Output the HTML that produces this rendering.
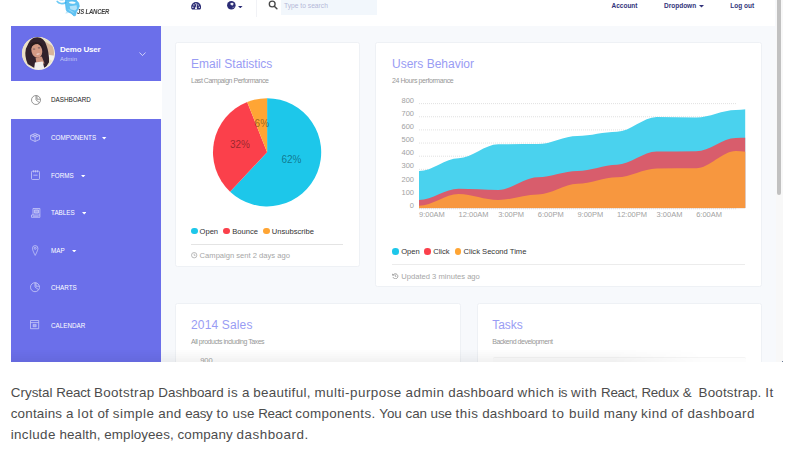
<!DOCTYPE html>
<html>
<head>
<meta charset="utf-8">
<style>
*{box-sizing:border-box;margin:0;padding:0}
html,body{width:810px;height:456px;overflow:hidden;background:#fff}
body{font-family:"Liberation Sans",sans-serif;position:relative}
.abs{position:absolute}
#shot{position:absolute;left:11px;top:0;width:772px;height:362.3px;overflow:hidden;background:#f7f9fc}
#inner{position:absolute;left:0;top:0;width:772px;height:380px}
#hdr{position:absolute;left:0;top:0;width:764px;height:26.2px;background:#fff}
#side{position:absolute;left:0;top:26.2px;width:150.2px;height:337px;background:#6b6fea}
#side .active{position:absolute;left:0;top:55px;width:151px;height:37.6px;background:#fff}
.t{position:absolute;white-space:nowrap;line-height:1}
.mi{color:#fff;font-size:6.3px;left:40px}
.card{position:absolute;background:#fff;border:1px solid #eef1f5;border-radius:2.5px}
.ttl{color:#999cf4;font-size:12px}
.sub{color:#979797;font-size:7px;letter-spacing:-0.47px}
.nav{top:2.6px;font-size:6.5px;font-weight:700;color:#32337a}
.pl{font-size:10px;color:rgba(0,0,0,.42)}
.leg{color:#333;font-size:7.6px}
.dot{position:absolute;width:6.6px;height:6.6px;border-radius:50%}
.foot{color:#a6a6a6;font-size:7.6px}
.ax{color:#a2a2a2;font-size:7.5px}
#para{position:absolute;left:11px;top:383.2px;width:795px;font-size:13.4px;line-height:20.6px;color:#4c4c4c;white-space:nowrap}
</style>
</head>
<body>
<div id="shot"><div id="inner">
<div id="hdr">
    <svg class="abs" style="left:43px;top:0;filter:blur(.35px)" width="28" height="17" viewBox="0 0 28 17">
      <path d="M3.2 1.4 Q4.2 3.2 7 3.5 Q9.6 3.8 12 2.4" fill="none" stroke="#55c1f3" stroke-width="1.7" stroke-linecap="round" opacity=".85"/>
      <path d="M5.5 .2 L9.5 .6" fill="none" stroke="#8fd6f7" stroke-width="1" opacity=".6"/>
      <path d="M11.4 0 L22 0 L24.6 3 L25.3 6.3 L23.9 9.4 L22.4 11.8 L21.4 15.6 L19.9 15.9 L17 13.2 L13.2 11.6 L12.2 9.8 L11.5 4 Z" fill="#3fb6f0" opacity=".82" stroke="#1ea5ec" stroke-width=".7"/>
      <ellipse cx="18.3" cy="2.6" rx="3.3" ry="1.1" fill="#fff" opacity=".95" transform="rotate(4 18.3 2.6)"/>
      <path d="M15.6 6.2 L22.6 5.3 L23 8.4 L21 10.6 L16.4 9.2 Z" fill="#bfe8fb" opacity=".85"/>
      <path d="M14.6 9.6 L19.6 12.6" stroke="#d6f0fc" stroke-width=".6" opacity=".8"/>
      <path d="M13 11 L11.2 13.6 L14 13.2 Z" fill="#7fd0f5" opacity=".5"/>
    </svg>
    <div class="t" style="left:66px;top:7.5px;font-size:8px;font-weight:700;font-style:italic;color:#404040;transform-origin:0 0;transform:scaleX(.74);letter-spacing:-.2px">JS LANCER</div>
    <svg class="abs" style="left:179.8px;top:1.9px" width="10.2" height="7.8" viewBox="0 0 10.2 7.8">
      <defs><clipPath id="tc"><rect x="0" y="0" width="10.2" height="7.6"/></clipPath></defs>
      <circle cx="5.1" cy="5" r="4.95" fill="#2b2c75" clip-path="url(#tc)"/>
      <path d="M5 6 L5.9 2.2" stroke="#fff" stroke-width=".8" stroke-linecap="round"/>
      <g fill="#fff"><circle cx="1.9" cy="5.3" r=".7"/><circle cx="2.9" cy="2.9" r=".7"/><circle cx="4.9" cy="1.7" r=".6"/><circle cx="8.3" cy="5.3" r=".7"/><circle cx="7.5" cy="2.9" r=".5"/><circle cx="5" cy="6.2" r="1"/></g>
    </svg>
    <svg class="abs" style="left:216.15px;top:1.25px" width="8.7" height="8.7" viewBox="0 0 9 9">
      <circle cx="4.5" cy="4.5" r="4.4" fill="#2b2c75"/>
      <path d="M3.6 2.4 L5 1.7 L6.6 2.2 L6.7 3.6 L5.4 5 L4.4 4.2 L3.4 3.4 Z" fill="#fff" opacity=".92"/>
      <path d="M5.6 7 L7.6 6.2" stroke="#fff" stroke-width=".6" opacity=".7"/>
    </svg>
    <svg class="abs" style="left:227.4px;top:5.8px" width="4.6" height="2.7" viewBox="0 0 5 3"><path d="M0 0 H5 L2.5 2.6 Z" fill="#2b2c75"/></svg>
    <div class="abs" style="left:245px;top:0;width:1px;height:17px;background:#f1f2f6"></div>
    <svg class="abs" style="left:257px;top:-0.2px" width="10" height="10" viewBox="0 0 10 10">
      <circle cx="4.2" cy="4" r="2.9" fill="none" stroke="#484848" stroke-width="1.35"/>
      <path d="M6.3 6.2 L8.9 8.8" stroke="#484848" stroke-width="1.5" stroke-linecap="round"/>
    </svg>
    <div class="abs" style="left:270px;top:0;width:96px;height:15.3px;background:#f2f7fc"></div>
    <div class="t" style="left:273px;top:3.3px;font-size:6.7px;color:#b4b7d8">Type to search</div>
    <div class="t nav" style="left:600.5px">Account</div>
    <div class="t nav" style="left:653px">Dropdown</div>
    <svg class="abs" style="left:688.3px;top:5.2px" width="5" height="3" viewBox="0 0 5 3"><path d="M0 0 H5 L2.5 2.6 Z" fill="#32337a"/></svg>
    <div class="t nav" style="left:719.3px">Log out</div>
    </div>
<div id="side"><div class="active"></div>
    <div class="abs" style="left:10.8px;top:10.5px;width:33.2px;height:33.2px;border-radius:50%;background:#f3efe2"></div>
    <svg class="abs" style="left:11.4px;top:11.1px" width="32" height="32" viewBox="48 58 346 346">
      <defs><clipPath id="av"><circle cx="221" cy="231" r="173"/></clipPath><filter id="avb"><feGaussianBlur stdDeviation="7"/></filter></defs>
      <g clip-path="url(#av)"><g filter="url(#avb)">
        <rect x="20" y="30" width="420" height="420" fill="#ece1c4"/>
        <path d="M300 110 L400 170 L400 270 L345 262 L318 190 Z" fill="#d9b59a"/>
        <path d="M330 250 L400 262 L400 330 L350 300 Z" fill="#f4f1ea"/>
        <path d="M118 125 Q155 58 215 62 Q288 64 313 150 Q343 230 340 330 L300 395 L200 405 L110 350 Q72 270 90 185 Z" fill="#30202a"/>
        <ellipse cx="208" cy="205" rx="58" ry="78" transform="rotate(-14 208 205)" fill="#d49a84"/>
        <path d="M140 130 Q190 95 250 125 Q275 150 280 200 Q255 140 215 135 Q165 135 140 190 Z" fill="#2a1a1f"/>
        <path d="M195 285 L262 268 L292 345 L205 352 Z" fill="#cd957f"/>
        <path d="M188 335 L272 322 L292 410 L178 410 Z" fill="#f2f0ee"/>
        <ellipse cx="178" cy="188" rx="14" ry="6" fill="#5a4a52" opacity=".8"/>
        <ellipse cx="232" cy="175" rx="14" ry="6" fill="#5a4a52" opacity=".8"/>
        <ellipse cx="222" cy="242" rx="20" ry="8" fill="#e9c9c0" transform="rotate(-14 222 242)"/>
      </g></g>
    </svg>
    <div class="t" style="left:49px;top:19.5px;font-size:8px;font-weight:700;color:#fff;letter-spacing:-.2px">Demo User</div>
    <div class="t" style="left:49px;top:29.8px;font-size:6px;color:rgba(255,255,255,.62)">Admin</div>
    <svg class="abs" style="left:128.3px;top:25.4px" width="7" height="4.4" viewBox="0 0 7 4.4"><path d="M.4 .5 L3.5 3.6 L6.6 .5" fill="none" stroke="#fff" stroke-width=".8" opacity=".85"/></svg>
    <div class="t mi" style="top:70.5px;color:#222">DASHBOARD</div><div class="t mi" style="top:108.9px;color:#fff">COMPONENTS</div><svg class="abs" style="left:91.2px;top:111.1px" width="4.4" height="2.6" viewBox="0 0 5 3"><path d="M0 0 H5 L2.5 2.8 Z" fill="#fff"/></svg><div class="t mi" style="top:146.4px;color:#fff">FORMS</div><svg class="abs" style="left:70.2px;top:148.6px" width="4.4" height="2.6" viewBox="0 0 5 3"><path d="M0 0 H5 L2.5 2.8 Z" fill="#fff"/></svg><div class="t mi" style="top:183.9px;color:#fff">TABLES</div><svg class="abs" style="left:70.8px;top:186.1px" width="4.4" height="2.6" viewBox="0 0 5 3"><path d="M0 0 H5 L2.5 2.8 Z" fill="#fff"/></svg><div class="t mi" style="top:221.4px;color:#fff">MAP</div><svg class="abs" style="left:61.3px;top:223.6px" width="4.4" height="2.6" viewBox="0 0 5 3"><path d="M0 0 H5 L2.5 2.8 Z" fill="#fff"/></svg><div class="t mi" style="top:258.9px;color:#fff">CHARTS</div><div class="t mi" style="top:296.4px;color:#fff">CALENDAR</div><svg class="abs" style="left:19.6px;top:68.8px;overflow:visible" width="10" height="10" viewBox="0 0 10 10"><g fill="none" stroke="#6a6a6a" stroke-width="0.75" opacity="0.9" stroke-linejoin="round"><circle cx="5" cy="5" r="4.5"/><path d="M5 .6 V5 L8.4 7.6"/><path d="M6 .7 V4.2 H9.4"/></g></svg><svg class="abs" style="left:19.3px;top:106.8px;overflow:visible" width="10.2" height="9" viewBox="0 0 10.2 9"><g fill="none" stroke="#fff" stroke-width="0.75" opacity="0.68" stroke-linejoin="round"><path d="M5.1 .5 L9.6 2.4 V6.4 L5.1 8.5 L.6 6.4 V2.4 Z"/><path d="M.6 2.4 L5.1 4.4 L9.6 2.4 M5.1 4.4 V8.5"/><path d="M2.8 1.5 L7.4 3.4 M7.4 1.5 L2.8 3.4"/></g></svg><svg class="abs" style="left:19.9px;top:144.3px;overflow:visible" width="9" height="10" viewBox="0 0 9 10"><g fill="none" stroke="#fff" stroke-width="0.75" opacity="0.68" stroke-linejoin="round"><rect x=".5" y="1.2" width="8" height="8.3" rx="1"/><path d="M2.6 .3 V2.4 M4.5 .3 V2.4 M6.4 .3 V2.4"/><path d="M2.4 5.2 H6.6"/></g></svg><svg class="abs" style="left:19.8px;top:181.7px;overflow:visible" width="9.4" height="9.8" viewBox="0 0 9.4 9.8"><g fill="none" stroke="#fff" stroke-width="0.75" opacity="0.68" stroke-linejoin="round"><path d="M2 7 V.5 H8.9 V7"/><rect x="3.4" y="1.9" width="4.1" height="3.2" fill="#fff" fill-opacity=".55"/><path d="M.5 7 H8.9 V9.3 H.5 Z"/><path d="M2 8.2 H7.6"/></g></svg><svg class="abs" style="left:20.5px;top:218.7px;overflow:visible" width="6.4" height="10.8" viewBox="0 0 6.4 10.8"><g fill="none" stroke="#fff" stroke-width="0.75" opacity="0.68" stroke-linejoin="round"><path d="M3.2 10.4 C3.2 10.4 .5 5.6 .5 3.3 A2.7 2.7 0 0 1 5.9 3.3 C5.9 5.6 3.2 10.4 3.2 10.4 Z"/><circle cx="3.2" cy="3.3" r="1"/></g></svg><svg class="abs" style="left:19.2px;top:255.9px;overflow:visible" width="10" height="10.4" viewBox="0 0 10 10.4"><g fill="none" stroke="#fff" stroke-width="0.75" opacity="0.68" stroke-linejoin="round"><circle cx="5" cy="5.2" r="4.5"/><path d="M5 .6 V5 L8.4 7.6"/><path d="M6 .7 V4.2 H9.4"/></g></svg><svg class="abs" style="left:19.4px;top:293.9px;overflow:visible" width="9.2" height="9.2" viewBox="0 0 9.2 9.2"><g fill="none" stroke="#fff" stroke-width="0.75" opacity="0.68" stroke-linejoin="round"><rect x=".5" y=".5" width="8.2" height="8.2"/><path d="M.5 2.6 H8.7"/><rect x="3" y="4.4" width="3.2" height="2.4" fill="#fff" fill-opacity=".6" stroke-width=".5"/></g></svg></div>
<div class="card" style="left:164.3px;top:42px;width:184.6px;height:225px"></div>
<div class="card" style="left:364.3px;top:42px;width:386.5px;height:244.6px"></div>
<div class="card" style="left:164.3px;top:303.2px;width:285.6px;height:80px"></div>
<div class="card" style="left:465.8px;top:303.2px;width:285.2px;height:80px"></div>
<svg class="abs" style="left:0;top:0" width="772" height="363" viewBox="0 0 772 363"><path d="M256.10 152.30 L256.10 98.20 A54.1 54.1 0 1 1 219.07 191.74 Z" fill="#1dc7ea"/><path d="M256.10 152.30 L219.07 191.74 A54.1 54.1 0 0 1 236.18 102.00 Z" fill="#fb404b"/><path d="M256.10 152.30 L236.18 102.00 A54.1 54.1 0 0 1 256.10 98.20 Z" fill="#ffa534"/><defs><clipPath id="cc"><rect x="408" y="90" width="326.20000000000005" height="118.30000000000001"/></clipPath></defs><line x1="408" y1="208.80" x2="725.5" y2="208.80" stroke="#cdcdcd" stroke-width=".6" stroke-dasharray="1 1"/><line x1="408" y1="195.65" x2="725.5" y2="195.65" stroke="#cdcdcd" stroke-width=".6" stroke-dasharray="1 1"/><line x1="408" y1="182.50" x2="725.5" y2="182.50" stroke="#cdcdcd" stroke-width=".6" stroke-dasharray="1 1"/><line x1="408" y1="169.35" x2="725.5" y2="169.35" stroke="#cdcdcd" stroke-width=".6" stroke-dasharray="1 1"/><line x1="408" y1="156.20" x2="725.5" y2="156.20" stroke="#cdcdcd" stroke-width=".6" stroke-dasharray="1 1"/><line x1="408" y1="143.05" x2="725.5" y2="143.05" stroke="#cdcdcd" stroke-width=".6" stroke-dasharray="1 1"/><line x1="408" y1="129.90" x2="725.5" y2="129.90" stroke="#cdcdcd" stroke-width=".6" stroke-dasharray="1 1"/><line x1="408" y1="116.75" x2="725.5" y2="116.75" stroke="#cdcdcd" stroke-width=".6" stroke-dasharray="1 1"/><line x1="408" y1="103.60" x2="725.5" y2="103.60" stroke="#cdcdcd" stroke-width=".6" stroke-dasharray="1 1"/><g clip-path="url(#cc)"><path d="M408.0 208.3 L408.0 171.06 C421.20 171.06 434.40 158.17 447.60 158.17 C460.80 158.17 474.00 144.37 487.20 144.37 C500.40 144.37 513.60 144.10 526.80 144.10 C540.00 144.10 553.20 135.95 566.40 135.95 C579.60 135.95 592.80 131.74 606.00 131.74 C619.20 131.74 632.40 117.01 645.60 117.01 C658.80 117.01 672.00 117.41 685.20 117.41 C698.40 117.41 711.60 109.91 724.80 109.91 C738.00 109.91 751.20 105.18 764.40 105.18 L764.4 208.3 Z" fill="#4ad2ee" fill-opacity="1"/><path d="M408.0 208.3 L408.0 199.99 C421.20 199.99 434.40 188.81 447.60 188.81 C460.80 188.81 474.00 190.00 487.20 190.00 C500.40 190.00 513.60 177.24 526.80 177.24 C540.00 177.24 553.20 171.06 566.40 171.06 C579.60 171.06 592.80 164.75 606.00 164.75 C619.20 164.75 632.40 151.60 645.60 151.60 C658.80 151.60 672.00 151.33 685.20 151.33 C698.40 151.33 711.60 137.92 724.80 137.92 C738.00 137.92 751.20 137.53 764.40 137.53 L764.4 208.3 Z" fill="#d85d6c" fill-opacity="1"/><path d="M408.0 208.3 L408.0 205.78 C421.20 205.78 434.40 193.94 447.60 193.94 C460.80 193.94 474.00 199.99 487.20 199.99 C500.40 199.99 513.60 194.60 526.80 194.60 C540.00 194.60 553.20 183.81 566.40 183.81 C579.60 183.81 592.80 177.37 606.00 177.37 C619.20 177.37 632.40 168.43 645.60 168.43 C658.80 168.43 672.00 168.30 685.20 168.30 C698.40 168.30 711.60 151.07 724.80 151.07 C738.00 151.07 751.20 154.89 764.40 154.89 L764.4 208.3 Z" fill="#f7973f" fill-opacity="1"/></g></svg><div class="t pl" style="left:270.4px;top:154.9px;">62%</div><div class="t pl" style="left:219.0px;top:140.1px;">32%</div><div class="t pl" style="left:243.6px;top:118.8px;">6%</div><div class="t ttl" style="left:180.0px;top:57.5px;">Email Statistics</div><div class="t sub" style="left:180.0px;top:76.5px;">Last Campaign Performance</div><div class="dot" style="left:180.3px;top:227.7px;background:#1dc7ea"></div><div class="t leg" style="left:188.5px;top:227.8px;">Open</div><div class="dot" style="left:212.4px;top:227.7px;background:#fb404b"></div><div class="t leg" style="left:221.3px;top:227.8px;">Bounce</div><div class="dot" style="left:252.0px;top:227.7px;background:#ffa534"></div><div class="t leg" style="left:260.8px;top:227.8px;">Unsubscribe</div><div class="abs" style="left:180px;top:243.8px;width:152px;height:1px;background:#e4e4e4"></div><svg class="abs" style="left:180.3px;top:252.3px" width="6.4" height="6.4" viewBox="0 0 10 10"><circle cx="5" cy="5" r="4.2" fill="none" stroke="#a6a6a6" stroke-width="1.2"/><path d="M5 2.6 V5.3 H7" fill="none" stroke="#a6a6a6" stroke-width="1.1"/></svg><div class="t foot" style="left:188.6px;top:251.9px;">Campaign sent 2 days ago</div><div class="t ttl" style="left:381.0px;top:57.5px;">Users Behavior</div><div class="t sub" style="left:381.0px;top:76.5px;letter-spacing:-.42px">24 Hours performance</div><div class="t ax" style="left:378px;width:25px;text-align:right;top:201.8px">0</div><div class="t ax" style="left:378px;width:25px;text-align:right;top:188.7px">100</div><div class="t ax" style="left:378px;width:25px;text-align:right;top:175.5px">200</div><div class="t ax" style="left:378px;width:25px;text-align:right;top:162.4px">300</div><div class="t ax" style="left:378px;width:25px;text-align:right;top:149.2px">400</div><div class="t ax" style="left:378px;width:25px;text-align:right;top:136.1px">500</div><div class="t ax" style="left:378px;width:25px;text-align:right;top:122.9px">600</div><div class="t ax" style="left:378px;width:25px;text-align:right;top:109.8px">700</div><div class="t ax" style="left:378px;width:25px;text-align:right;top:96.6px">800</div><div class="t ax" style="left:408.0px;top:211.2px;">9:00AM</div><div class="t ax" style="left:447.6px;top:211.2px;">12:00AM</div><div class="t ax" style="left:487.2px;top:211.2px;">3:00PM</div><div class="t ax" style="left:526.8px;top:211.2px;">6:00PM</div><div class="t ax" style="left:566.4px;top:211.2px;">9:00PM</div><div class="t ax" style="left:606.0px;top:211.2px;">12:00PM</div><div class="t ax" style="left:645.6px;top:211.2px;">3:00AM</div><div class="t ax" style="left:685.2px;top:211.2px;">6:00AM</div><div class="dot" style="left:381.3px;top:248.0px;background:#1dc7ea"></div><div class="t leg" style="left:390.2px;top:248.1px;">Open</div><div class="dot" style="left:413.3px;top:248.0px;background:#fb404b"></div><div class="t leg" style="left:422.2px;top:248.1px;">Click</div><div class="dot" style="left:443.8px;top:248.0px;background:#ffa534"></div><div class="t leg" style="left:452.5px;top:248.1px;">Click Second Time</div><div class="abs" style="left:381px;top:264px;width:353px;height:1px;background:#ececec"></div><svg class="abs" style="left:381.3px;top:272.8px" width="6.4" height="6.4" viewBox="0 0 10 10"><path d="M2 3 A3.9 3.9 0 1 1 1.6 6.6" fill="none" stroke="#9a9a9a" stroke-width="1.5"/><path d="M0 .8 L.6 4.4 L4.2 3.6 Z" fill="#9a9a9a"/><path d="M5.2 3 V5.4 H6.8" fill="none" stroke="#9a9a9a" stroke-width="1.2"/></svg><div class="t foot" style="left:390.3px;top:272.8px;">Updated 3 minutes ago</div><div class="t ttl" style="left:180.0px;top:318.7px;letter-spacing:.15px">2014 Sales</div><div class="t sub" style="left:180.0px;top:338.1px;">All products including Taxes</div><div class="t ax" style="left:189.2px;top:357.0px;">900</div><div class="t ttl" style="left:481.2px;top:318.7px;">Tasks</div><div class="t sub" style="left:481.2px;top:338.1px;">Backend development</div><div class="abs" style="left:481.5px;top:357px;width:253px;height:8px;background:#fdfdfd;border-top:1px solid #f4f4f4;border-radius:2px 2px 0 0"></div><div class="abs" style="left:0;top:349px;width:700px;height:14px;background:linear-gradient(to bottom,rgba(0,0,0,0),rgba(0,0,0,.055));-webkit-mask-image:linear-gradient(to right,#000 0,#000 86%,transparent 99%);mask-image:linear-gradient(to right,#000 0,#000 86%,transparent 99%)"></div>
<div class="abs" style="left:764.5px;top:0;width:7.5px;height:363px;background:#f8f8f8"></div><div class="abs" style="left:766.2px;top:-3px;width:3.8px;height:198px;border-radius:2px;background:#c1c1c1"></div><div class="abs" style="left:771px;top:361px;width:1px;height:1.3px;background:#6a7a94"></div></div></div>
<div id="para"><span style="position:absolute;left:-0.3px;top:0px;letter-spacing:0.033px">Crystal</span><span style="position:absolute;left:45.3px;top:0px;letter-spacing:-0.217px">React</span><span style="position:absolute;left:82.9px;top:0px;letter-spacing:0.375px">Bootstrap</span><span style="position:absolute;left:147.3px;top:0px;letter-spacing:-0.013px">Dashboard</span><span style="position:absolute;left:216.4px;top:0px;letter-spacing:0.600px">is</span><span style="position:absolute;left:231.0px;top:0px;letter-spacing:0.000px">a</span><span style="position:absolute;left:242.3px;top:0px;letter-spacing:0.304px">beautiful,</span><span style="position:absolute;left:303.4px;top:0px;letter-spacing:0.483px">multi-purpose</span><span style="position:absolute;left:394.5px;top:0px;letter-spacing:0.503px">admin</span><span style="position:absolute;left:437.2px;top:0px;letter-spacing:0.267px">dashboard</span><span style="position:absolute;left:506.6px;top:0px;letter-spacing:0.530px">which</span><span style="position:absolute;left:547.2px;top:0px;letter-spacing:-0.350px">is</span><span style="position:absolute;left:560.0px;top:0px;letter-spacing:0.600px">with</span><span style="position:absolute;left:590.1px;top:0px;letter-spacing:-0.350px">React,</span><span style="position:absolute;left:630.4px;top:0px;letter-spacing:-0.204px">Redux</span><span style="position:absolute;left:671.8px;top:0px;letter-spacing:0.000px">&amp;</span><span style="position:absolute;left:687.5px;top:0px;letter-spacing:0.195px">Bootstrap.</span><span style="position:absolute;left:754.3px;top:0px;letter-spacing:0.600px">It</span><span style="position:absolute;left:-0.3px;top:20.6px;letter-spacing:0.203px">contains</span><span style="position:absolute;left:54.9px;top:20.6px;letter-spacing:0.000px">a</span><span style="position:absolute;left:66.6px;top:20.6px;letter-spacing:0.600px">lot</span><span style="position:absolute;left:86.4px;top:20.6px;letter-spacing:0.214px">of</span><span style="position:absolute;left:101.7px;top:20.6px;letter-spacing:0.533px">simple</span><span style="position:absolute;left:147.3px;top:20.6px;letter-spacing:0.285px">and</span><span style="position:absolute;left:174.2px;top:20.6px;letter-spacing:-0.224px">easy</span><span style="position:absolute;left:205.4px;top:20.6px;letter-spacing:0.600px">to</span><span style="position:absolute;left:221.6px;top:20.6px;letter-spacing:0.169px">use</span><span style="position:absolute;left:247.3px;top:20.6px;letter-spacing:-0.350px">React</span><span style="position:absolute;left:284.2px;top:20.6px;letter-spacing:0.330px">components.</span><span style="position:absolute;left:368.2px;top:20.6px;letter-spacing:-0.003px">You</span><span style="position:absolute;left:394.5px;top:20.6px;letter-spacing:-0.065px">can</span><span style="position:absolute;left:419.6px;top:20.6px;letter-spacing:-0.098px">use</span><span style="position:absolute;left:444.6px;top:20.6px;letter-spacing:0.514px">this</span><span style="position:absolute;left:471.2px;top:20.6px;letter-spacing:0.234px">dashboard</span><span style="position:absolute;left:541.1px;top:20.6px;letter-spacing:0.600px">to</span><span style="position:absolute;left:558.0px;top:20.6px;letter-spacing:0.561px">build</span><span style="position:absolute;left:592.8px;top:20.6px;letter-spacing:0.212px">many</span><span style="position:absolute;left:630.1px;top:20.6px;letter-spacing:0.480px">kind</span><span style="position:absolute;left:660.3px;top:20.6px;letter-spacing:0.600px">of</span><span style="position:absolute;left:676.4px;top:20.6px;letter-spacing:0.478px">dashboard</span><span style="position:absolute;left:-0.3px;top:42.2px;letter-spacing:0.366px">include</span><span style="position:absolute;left:48.4px;top:42.2px;letter-spacing:0.140px">health,</span><span style="position:absolute;left:93.3px;top:42.2px;letter-spacing:0.102px">employees,</span><span style="position:absolute;left:166.5px;top:42.2px;letter-spacing:0.151px">company</span><span style="position:absolute;left:225.6px;top:42.2px;letter-spacing:0.508px">dashboard.</span></div>
</body>
</html>
